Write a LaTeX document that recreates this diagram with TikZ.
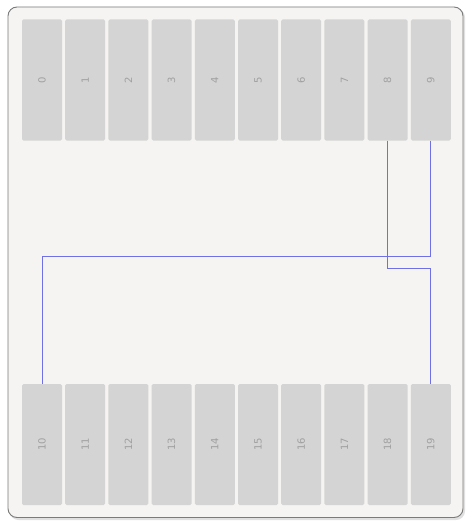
\documentclass[tikz,border=0pt]{standalone}
\usepackage{fontspec}
\setsansfont{DejaVu Sans}
\definecolor{bgin}{HTML}{F5F4F2}
\definecolor{pinfill}{HTML}{D4D4D4}
\definecolor{frame}{HTML}{7A7A7A}
\definecolor{wire}{HTML}{7070E6}
\definecolor{lbl}{HTML}{A0A0A0}
\tikzset{
  pinbox/.style={fill=pinfill, draw=none, rounded corners=1.5pt, minimum width=40pt, minimum height=121pt, inner sep=0pt},
  pinlabel/.style={text=lbl, font=\sffamily\fontsize{10}{11}\selectfont, rotate=90},
  wireline/.style={draw=wire, line width=0.9pt}
}
\begin{document}
\begin{tikzpicture}[x=1pt,y=-1pt]
\useasboundingbox[fill=white] (0,0) rectangle (474,527);
\fill[black!12, rounded corners=9pt] (9.5,8.5) rectangle (465,520);
\draw[frame, fill=bgin, line width=0.9pt, rounded corners=9pt] (8,7) rectangle (463,517.5);
\foreach \i in {0,...,9}{
  \node[pinbox] (p\i) at ({42+43.2*\i},80) {};
  \node[pinlabel] at (p\i) {\i};
}
\foreach \i in {0,...,9}{
  \pgfmathtruncatemacro{\n}{\i+10}
  \node[pinbox] (p\n) at ({42+43.2*\i},444.5) {};
  \node[pinlabel] at (p\n) {\n};
}
\coordinate (a1) at (p8.south |- 0,268);
\coordinate (a2) at (p19.north |- 0,268);
\draw[wireline] (p8.south) -- (a1) -- (a2) -- (p19.north);
\coordinate (b1) at (p9.south |- 0,256);
\coordinate (b2) at (p10.north |- 0,256);
\draw[wireline] (p9.south) -- (b1) -- (b2) -- (p10.north);
\end{tikzpicture}
\end{document}
